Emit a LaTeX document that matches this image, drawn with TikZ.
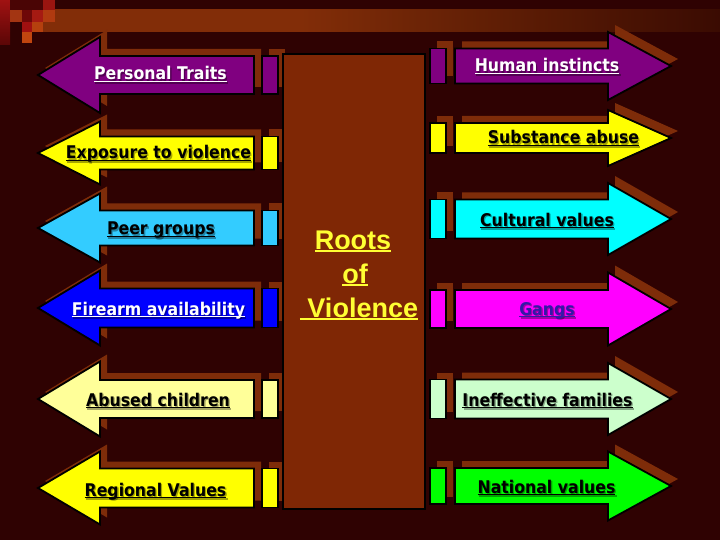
\documentclass[tikz,border=0pt]{standalone}
\usepackage{fontspec}
\newfontfamily\lblfont{DejaVu Sans}[FakeStretch=0.9]
\newfontfamily\rootfont{Liberation Sans}
\definecolor{bgc}{HTML}{2F0202}
\definecolor{bandA}{HTML}{822D08}
\definecolor{bandB}{HTML}{6C2406}
\definecolor{bandC}{HTML}{3A0B02}
\definecolor{shadowc}{HTML}{7E2C09}
\definecolor{boxc}{HTML}{7F2705}
\definecolor{cpurple}{HTML}{800080}
\definecolor{cyellow}{HTML}{FFFF00}
\definecolor{cpeer}{HTML}{33CCFF}
\definecolor{cblue}{HTML}{0000FF}
\definecolor{cabused}{HTML}{FFFF99}
\definecolor{ccyan}{HTML}{00FFFF}
\definecolor{cmagenta}{HTML}{FF00FF}
\definecolor{cineff}{HTML}{CCFFCC}
\definecolor{cgreen}{HTML}{00FF00}
\definecolor{cgangs}{HTML}{3318A8}
\definecolor{rootyellow}{HTML}{FFFF33}
\definecolor{sqA}{HTML}{A01212}
\definecolor{sqB}{HTML}{5A0606}
\definecolor{sqC}{HTML}{4A0505}
\definecolor{sqD}{HTML}{A33512}
\definecolor{sqE}{HTML}{6E0808}
\definecolor{sqF}{HTML}{A51A12}
\definecolor{sqG}{HTML}{9A1510}
\definecolor{sqH}{HTML}{B03A10}
\definecolor{sqI}{HTML}{A01010}
\definecolor{sqJ}{HTML}{B5400E}
\definecolor{sqK}{HTML}{C0450F}
\pgfdeclarehorizontalshading{bandshade}{100bp}{color(0bp)=(bandA); color(25bp)=(bandA); color(44bp)=(bandA); color(53bp)=(bandB); color(75bp)=(bandC); color(100bp)=(bandC)}
\newcommand\ulx[1]{\setbox0=\hbox{#1}\rlap{\rule[-2.4pt]{\wd0}{1.5pt}}\box0}
\newcommand\ulr[1]{\setbox0=\hbox{#1}\rlap{\rule[-3.2pt]{\wd0}{2.2pt}}\box0}
\tikzset{
  arrowline/.style={draw=black, line width=1.8pt, line join=miter},
  lblstyle/.style={font=\lblfont\bfseries\fontsize{17.5}{20}\selectfont, inner sep=0pt, anchor=base},
  rootstyle/.style={font=\rootfont\bfseries\fontsize{27}{30}\selectfont, inner sep=0pt, anchor=base, text=rootyellow},
  shadowfill/.style={fill=shadowc, shift={(7,-7)}}
}
% left arrow: #1 centre y, #2 shaft half height, #3 head half height
\newcommand\LShadow[3]{%
  \fill[shadowfill] (38,#1) -- (100,{#1-#3}) -- (100,{#1-#2}) -- (254,{#1-#2}) -- (254,{#1+#2}) -- (100,{#1+#2}) -- (100,{#1+#3}) -- cycle;
  \fill[shadowfill] (262,{#1-#2}) rectangle (278,{#1+#2});}
\newcommand\LArr[4]{%
  \draw[arrowline, fill=#4] (38,#1) -- (100,{#1-#3}) -- (100,{#1-#2}) -- (254,{#1-#2}) -- (254,{#1+#2}) -- (100,{#1+#2}) -- (100,{#1+#3}) -- cycle;
  \draw[arrowline, fill=#4] (262,{#1-#2}) rectangle (278,{#1+#2});}
\newcommand\RShadow[3]{%
  \fill[shadowfill] (455,{#1-#2}) -- (608,{#1-#2}) -- (608,{#1-#3}) -- (671,#1) -- (608,{#1+#3}) -- (608,{#1+#2}) -- (455,{#1+#2}) -- cycle;
  \fill[shadowfill] (430,{#1-#2}) rectangle (446,{#1+#2});}
\newcommand\RArr[4]{%
  \draw[arrowline, fill=#4] (455,{#1-#2}) -- (608,{#1-#2}) -- (608,{#1-#3}) -- (671,#1) -- (608,{#1+#3}) -- (608,{#1+#2}) -- (455,{#1+#2}) -- cycle;
  \draw[arrowline, fill=#4] (430,{#1-#2}) rectangle (446,{#1+#2});}
% label: #1 name, #2 x, #3 baseline y, #4 colour, #5 text
\newcommand\Lbl[5]{%
  \node[lblstyle, text=black, opacity=0.35] (#1s) at ({#2+1.3},{#3+1.3}) {\ulx{#5}};
  \node[lblstyle, text=#4] (#1) at (#2,#3) {\ulx{#5}};}
\begin{document}
\begin{tikzpicture}[x=1pt, y=-1pt]
\useasboundingbox (0,0) rectangle (720,540);
\fill[bgc] (0,0) rectangle (720,540);
% top band
\shade[shading=bandshade] (43,10) rectangle (720,32);
% corner squares
\shade[top color=sqA, bottom color=sqB] (0,0) rectangle (10,45);
\fill[sqC] (10,0) rectangle (43,10);
\fill[sqD] (10,10) rectangle (22,22);
\fill[sqE] (22,10) rectangle (32,22);
\fill[sqF] (32,10) rectangle (43,22);
\fill[sqG] (43,0) rectangle (55,10);
\fill[sqH] (43,10) rectangle (55,22);
\fill[sqI] (22,22) rectangle (32,32);
\fill[sqJ] (32,22) rectangle (43,32);
\fill[sqK] (22,32) rectangle (32,43);
% shadows
\LShadow{75}{19}{38}
\LShadow{153}{16.5}{31.5}
\LShadow{228}{17.5}{34.5}
\LShadow{308}{19.5}{37.5}
\LShadow{399}{19}{37.5}
\LShadow{488}{19.5}{36.5}
\RShadow{66}{17.5}{34}
\RShadow{138}{15}{28}
\RShadow{219}{19.5}{36}
\RShadow{309}{19}{36.5}
\RShadow{399}{19.5}{36}
\RShadow{486}{18}{34.5}
% arrows
\LArr{75}{19}{38}{cpurple}
\LArr{153}{16.5}{31.5}{cyellow}
\LArr{228}{17.5}{34.5}{cpeer}
\LArr{308}{19.5}{37.5}{cblue}
\LArr{399}{19}{37.5}{cabused}
\LArr{488}{19.5}{36.5}{cyellow}
\RArr{66}{17.5}{34}{cpurple}
\RArr{138}{15}{28}{cyellow}
\RArr{219}{19.5}{36}{ccyan}
\RArr{309}{19}{36.5}{cmagenta}
\RArr{399}{19.5}{36}{cineff}
\RArr{486}{18}{34.5}{cgreen}
% central box
\draw[fill=boxc, line width=2pt] (283,54) rectangle (425,509);
\node[rootstyle] (roots) at (353,249) {\ulr{Roots}};
\node[rootstyle] (of) at (355,283) {\ulr{of}};
\node[rootstyle] (violence) at (359,317) {\ulr{\ Violence}};
% labels
\Lbl{pt}{160.5}{80}{white}{Personal Traits}
\Lbl{ev}{158.5}{159}{black}{Exposure to violence}
\Lbl{pg}{161}{235}{black}{Peer groups}
\Lbl{fa}{158.5}{315}{white}{Firearm availability}
\Lbl{ac}{158}{406}{black}{Abused children}
\Lbl{rv}{155.5}{496}{black}{Regional Values}
\Lbl{hi}{547}{72}{white}{Human instincts}
\Lbl{sa}{563.5}{144}{black}{Substance abuse}
\Lbl{cv}{547}{226}{black}{Cultural values}
\Lbl{ga}{547}{315}{cgangs}{Gangs}
\Lbl{if}{547.5}{406}{black}{Ineffective families}
\Lbl{nv}{546.5}{493}{black}{National values}
\end{tikzpicture}
\end{document}
